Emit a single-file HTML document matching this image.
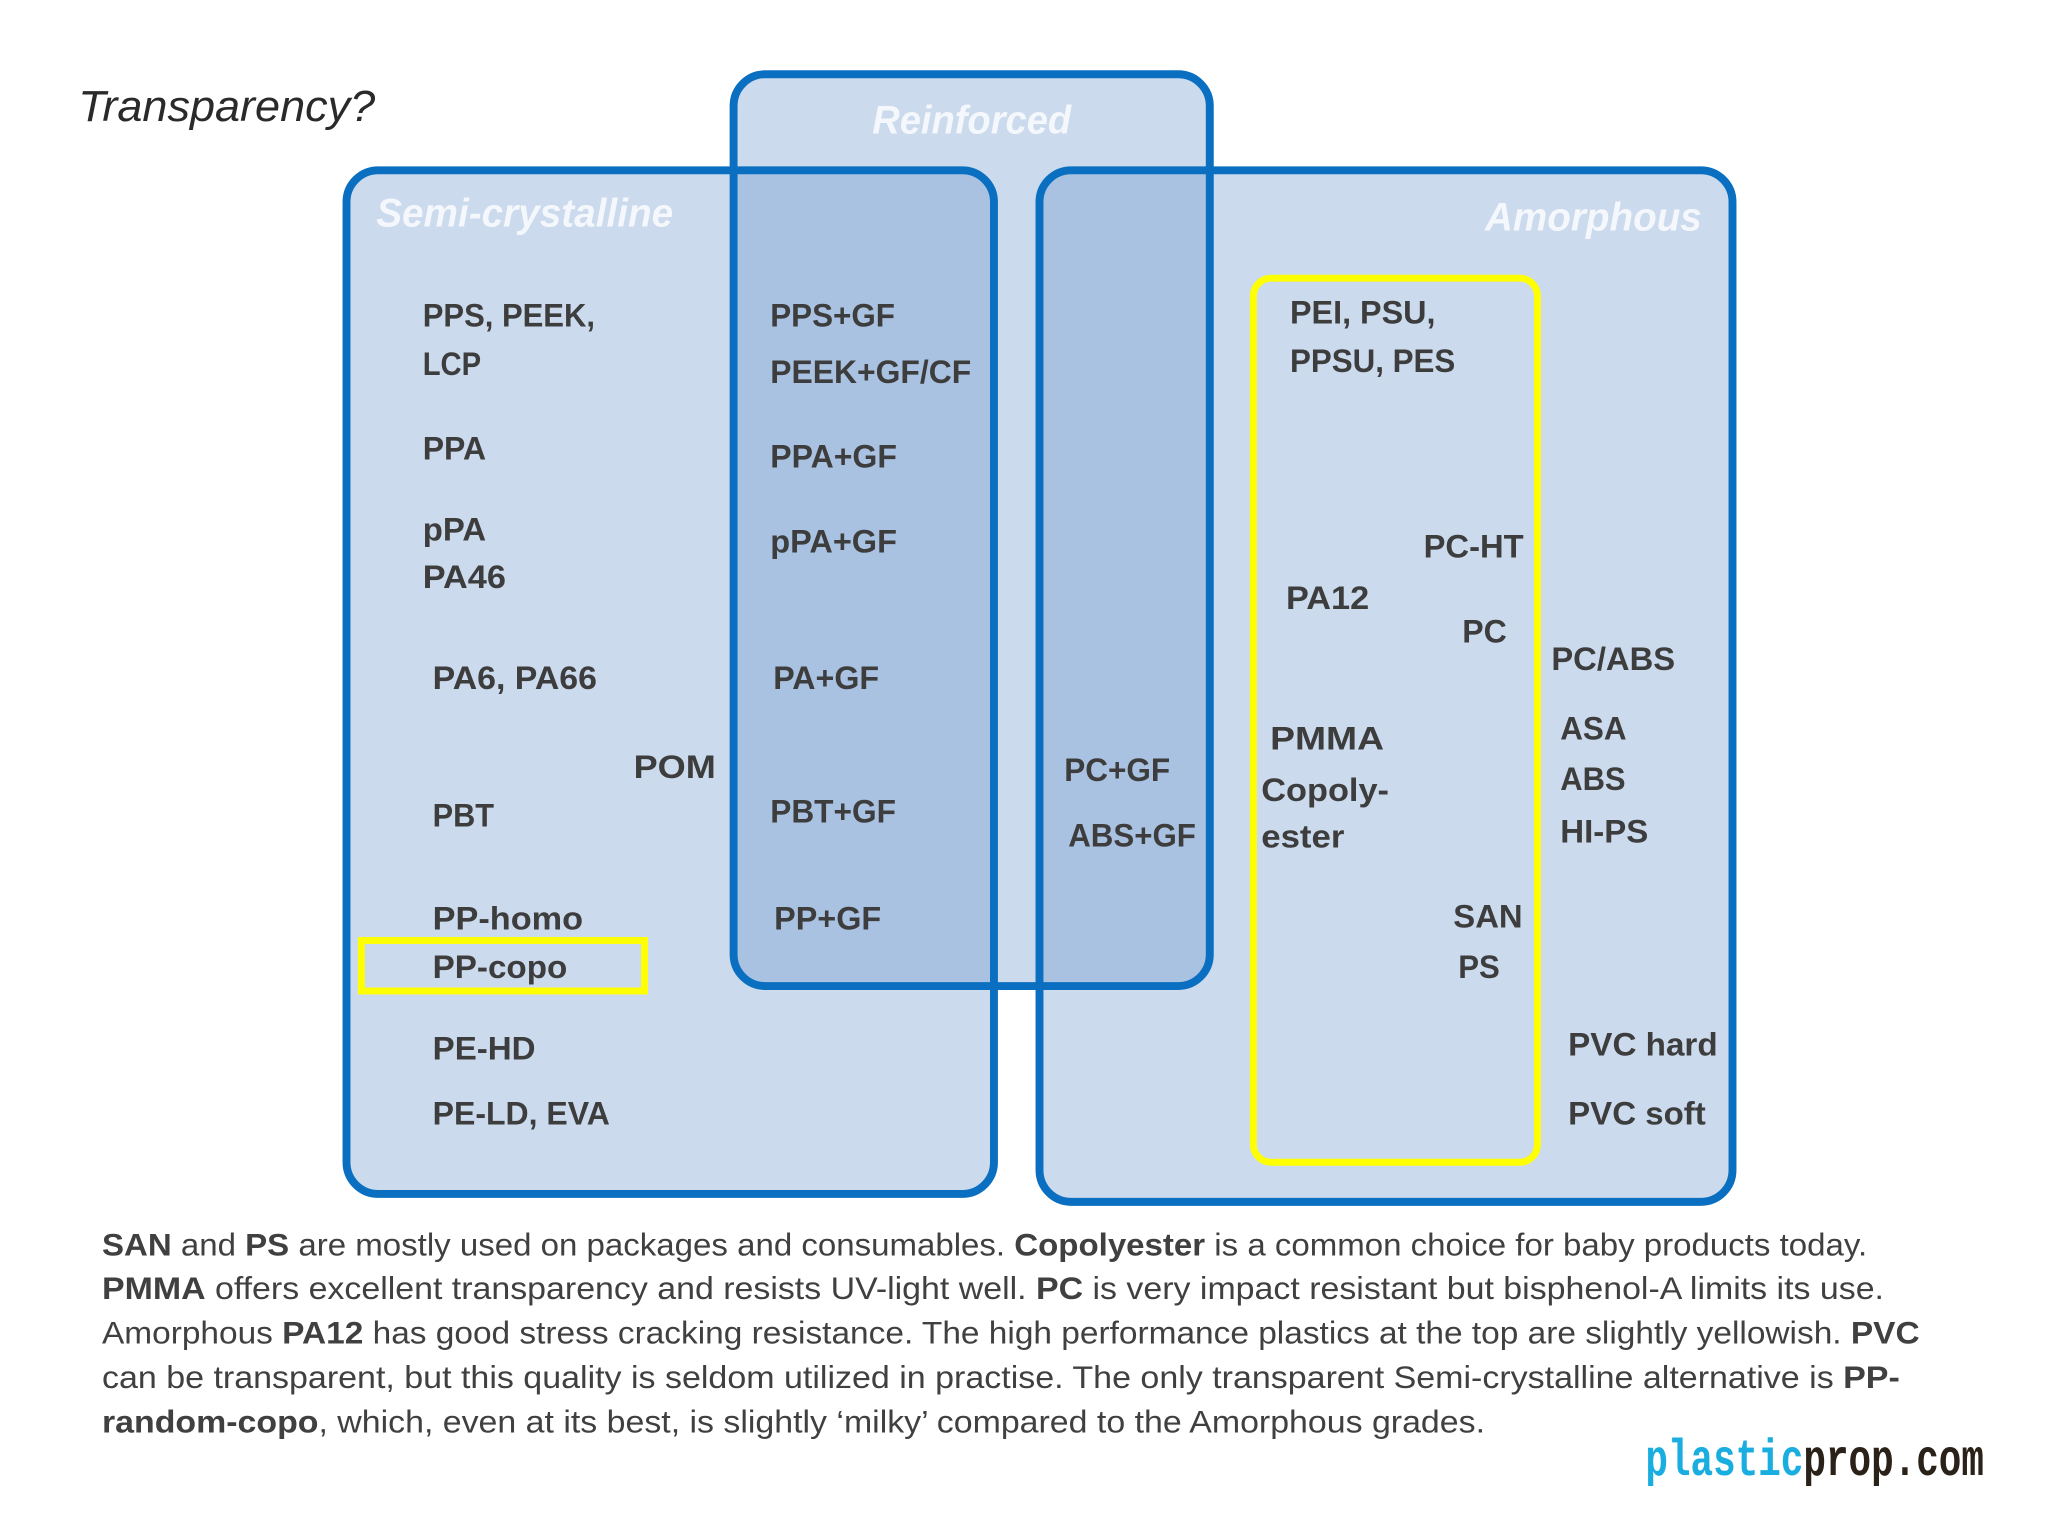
<!DOCTYPE html>
<html><head><meta charset="utf-8"><style>
html,body{margin:0;padding:0;background:#fff;}
svg{display:block;}
.lb{font-family:"Liberation Sans",sans-serif;font-weight:bold;font-size:33px;fill:#3d3d3d;}
.hd{font-family:"Liberation Sans",sans-serif;font-weight:bold;font-style:italic;font-size:40px;fill:#f4f7fb;}
.p{font-family:"Liberation Sans",sans-serif;font-size:32px;fill:#404040;}
.p tspan.b{font-weight:bold;}
</style></head><body>
<svg width="2048" height="1536" viewBox="0 0 2048 1536" xmlns="http://www.w3.org/2000/svg">
<g transform="scale(0.99)">
<text x="79" y="122" font-family="Liberation Sans,sans-serif" font-style="italic" font-size="44" fill="#2a2a2a" textLength="300" lengthAdjust="spacingAndGlyphs">Transparency?</text>
<g fill="rgb(110,152,205)" fill-opacity="0.36">
<rect x="350" y="172" width="654" height="1034" rx="32"/>
<rect x="1050" y="172" width="700" height="1042" rx="32"/>
<rect x="741" y="75" width="481" height="921" rx="32"/>
</g>
<g fill="none" stroke="#0a6fc0" stroke-width="8">
<rect x="350" y="172" width="654" height="1034" rx="32"/>
<rect x="1050" y="172" width="700" height="1042" rx="32"/>
<rect x="741" y="75" width="481" height="921" rx="32"/>
</g>
<rect x="1266" y="281" width="287" height="893" rx="18" fill="none" stroke="#ffff00" stroke-width="7"/>
<rect x="365" y="950" width="286" height="51" fill="none" stroke="#ffff00" stroke-width="7"/>
<text class="hd" x="380" y="229" textLength="300" lengthAdjust="spacingAndGlyphs">Semi-crystalline</text>
<text class="hd" x="881" y="135" textLength="201" lengthAdjust="spacingAndGlyphs">Reinforced</text>
<text class="hd" x="1500" y="233" textLength="219" lengthAdjust="spacingAndGlyphs">Amorphous</text>
<g>
<text class="lb" x="427" y="330" textLength="174" lengthAdjust="spacingAndGlyphs">PPS, PEEK,</text>
<text class="lb" x="427" y="379" textLength="59" lengthAdjust="spacingAndGlyphs">LCP</text>
<text class="lb" x="427" y="464" textLength="64" lengthAdjust="spacingAndGlyphs">PPA</text>
<text class="lb" x="427" y="546" textLength="64" lengthAdjust="spacingAndGlyphs">pPA</text>
<text class="lb" x="427" y="594" textLength="84" lengthAdjust="spacingAndGlyphs">PA46</text>
<text class="lb" x="437" y="696" textLength="166" lengthAdjust="spacingAndGlyphs">PA6, PA66</text>
<text class="lb" x="640" y="786" textLength="83" lengthAdjust="spacingAndGlyphs">POM</text>
<text class="lb" x="437" y="835" textLength="62" lengthAdjust="spacingAndGlyphs">PBT</text>
<text class="lb" x="437" y="939" textLength="152" lengthAdjust="spacingAndGlyphs">PP-homo</text>
<text class="lb" x="437" y="988" textLength="136" lengthAdjust="spacingAndGlyphs">PP-copo</text>
<text class="lb" x="437" y="1070" textLength="104" lengthAdjust="spacingAndGlyphs">PE-HD</text>
<text class="lb" x="437" y="1136" textLength="179" lengthAdjust="spacingAndGlyphs">PE-LD, EVA</text>
<text class="lb" x="778" y="330" textLength="126" lengthAdjust="spacingAndGlyphs">PPS+GF</text>
<text class="lb" x="778" y="387" textLength="203" lengthAdjust="spacingAndGlyphs">PEEK+GF/CF</text>
<text class="lb" x="778" y="472" textLength="128" lengthAdjust="spacingAndGlyphs">PPA+GF</text>
<text class="lb" x="778" y="558" textLength="128" lengthAdjust="spacingAndGlyphs">pPA+GF</text>
<text class="lb" x="781" y="696" textLength="107" lengthAdjust="spacingAndGlyphs">PA+GF</text>
<text class="lb" x="778" y="831" textLength="127" lengthAdjust="spacingAndGlyphs">PBT+GF</text>
<text class="lb" x="782" y="939" textLength="108" lengthAdjust="spacingAndGlyphs">PP+GF</text>
<text class="lb" x="1075" y="789" textLength="107" lengthAdjust="spacingAndGlyphs">PC+GF</text>
<text class="lb" x="1079" y="855" textLength="129" lengthAdjust="spacingAndGlyphs">ABS+GF</text>
<text class="lb" x="1303" y="327" textLength="147" lengthAdjust="spacingAndGlyphs">PEI, PSU,</text>
<text class="lb" x="1303" y="376" textLength="167" lengthAdjust="spacingAndGlyphs">PPSU, PES</text>
<text class="lb" x="1438" y="563" textLength="101" lengthAdjust="spacingAndGlyphs">PC-HT</text>
<text class="lb" x="1299" y="615" textLength="84" lengthAdjust="spacingAndGlyphs">PA12</text>
<text class="lb" x="1477" y="649" textLength="45" lengthAdjust="spacingAndGlyphs">PC</text>
<text class="lb" x="1567" y="677" textLength="125" lengthAdjust="spacingAndGlyphs">PC/ABS</text>
<text class="lb" x="1576" y="747" textLength="67" lengthAdjust="spacingAndGlyphs">ASA</text>
<text class="lb" x="1576" y="798" textLength="66" lengthAdjust="spacingAndGlyphs">ABS</text>
<text class="lb" x="1576" y="851" textLength="89" lengthAdjust="spacingAndGlyphs">HI-PS</text>
<text class="lb" x="1283" y="757" textLength="115" lengthAdjust="spacingAndGlyphs">PMMA</text>
<text class="lb" x="1274" y="809" textLength="129" lengthAdjust="spacingAndGlyphs">Copoly-</text>
<text class="lb" x="1274" y="856" textLength="84" lengthAdjust="spacingAndGlyphs">ester</text>
<text class="lb" x="1468" y="937" textLength="70" lengthAdjust="spacingAndGlyphs">SAN</text>
<text class="lb" x="1473" y="988" textLength="42" lengthAdjust="spacingAndGlyphs">PS</text>
<text class="lb" x="1584" y="1066" textLength="151" lengthAdjust="spacingAndGlyphs">PVC hard</text>
<text class="lb" x="1584" y="1136" textLength="139" lengthAdjust="spacingAndGlyphs">PVC soft</text>
</g>
<g>
<text class="p" x="103" y="1268" textLength="1783" lengthAdjust="spacingAndGlyphs"><tspan class="b">SAN</tspan> and <tspan class="b">PS</tspan> are mostly used on packages and consumables. <tspan class="b">Copolyester</tspan> is a common choice for baby products today.</text>
<text class="p" x="103" y="1312" textLength="1800" lengthAdjust="spacingAndGlyphs"><tspan class="b">PMMA</tspan> offers excellent transparency and resists UV-light well. <tspan class="b">PC</tspan> is very impact resistant but bisphenol-A limits its use.</text>
<text class="p" x="103" y="1357" textLength="1836" lengthAdjust="spacingAndGlyphs">Amorphous <tspan class="b">PA12</tspan> has good stress cracking resistance. The high performance plastics at the top are slightly yellowish. <tspan class="b">PVC</tspan></text>
<text class="p" x="103" y="1402" textLength="1816" lengthAdjust="spacingAndGlyphs">can be transparent, but this quality is seldom utilized in practise. The only transparent Semi-crystalline alternative is <tspan class="b">PP-</tspan></text>
<text class="p" x="103" y="1447" textLength="1397" lengthAdjust="spacingAndGlyphs"><tspan class="b">random-copo</tspan>, which, even at its best, is slightly ‘milky’ compared to the Amorphous grades.</text>
</g>
<text x="1662" y="1490" font-family="Liberation Mono,monospace" font-weight="bold" font-size="52" textLength="342" lengthAdjust="spacingAndGlyphs"><tspan fill="#1aaee0">plastic</tspan><tspan fill="#2a2118">prop.com</tspan></text>
</g>
</svg>
</body></html>
